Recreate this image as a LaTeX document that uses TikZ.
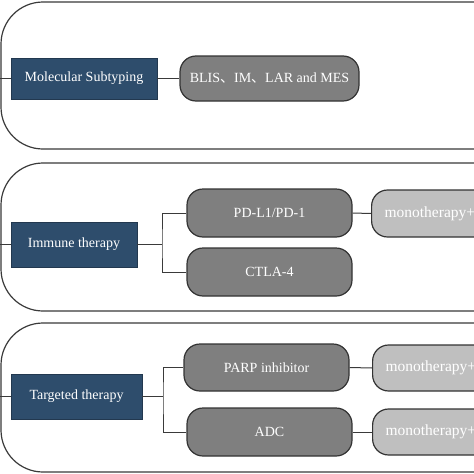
\documentclass[tikz,border=0pt]{standalone}
\usepackage{fontspec}
\setmainfont{Liberation Serif}
\newfontfamily\cjk{Noto Sans CJK SC}
\definecolor{boxblue}{HTML}{2E4D6C}
\definecolor{boxborder}{HTML}{22384F}
\definecolor{midgray}{HTML}{7F7F7F}
\definecolor{lightgray}{HTML}{BFBFBF}
\definecolor{edgegray}{HTML}{333333}
\definecolor{panelline}{HTML}{3A3A3A}
\begin{document}
\begin{tikzpicture}[x=1pt,y=-1pt,
  panel/.style={draw=panelline, line width=1.2pt, rounded corners=42pt},
  catbox/.style={rectangle, fill=boxblue, draw=boxborder, line width=0.8pt, text=white, inner sep=0pt, font=\fontsize{14}{16}\selectfont},
  subbox/.style={rectangle, rounded corners=16pt, fill=midgray, draw=edgegray, line width=1.2pt, text=white, inner sep=0pt, minimum width=165pt, minimum height=48pt, font=\fontsize{14}{16}\selectfont},
  monobox/.style={rectangle, rounded corners=16pt, fill=lightgray, draw=edgegray, line width=1.2pt, text=white, inner ysep=0pt, inner xsep=13pt, text width=120pt, align=left, minimum height=47pt, anchor=west, font=\fontsize{15.5}{17}\selectfont},
  link/.style={draw=panelline, line width=1pt}
]
\useasboundingbox (0,0) rectangle (474,474);
\clip (0,0) rectangle (474,474);
\fill[white] (0,0) rectangle (474,474);

% panels
\draw[panel] (530,2) -- (1,2) -- (1,149) -- (530,149);
\draw[panel] (530,163) -- (1,163) -- (1,311) -- (530,311);
\draw[panel] (530,323) -- (1,323) -- (1,472) -- (530,472);

% panel 1
\node[catbox, minimum width=146pt, minimum height=41pt] (mol) at (84,78.5) {Molecular Subtyping};
\node[subbox, minimum width=179pt, minimum height=45pt] (blis) at (269.5,78.5) {BLIS{\cjk 、}IM{\cjk 、}LAR and MES};
\coordinate (s1) at (0,78.5);
\draw[link] (s1) -- (mol.west);
\draw[link] (mol.east) -- (blis.west);

% panel 2
\node[catbox, minimum width=126pt, minimum height=45pt] (imm) at (74,244.5) {Immune therapy};
\node[subbox] (pd) at (269.5,213) {PD-L1/PD-1};
\node[subbox] (ctla) at (269.5,272) {CTLA-4};
\node[monobox] (m1) at (371,213.5) {monotherapy+};
\coordinate (s2) at (0,244.5);
\coordinate (j2) at (162,244.5);
\draw[link] (s2) -- (imm.west);
\draw[link] (imm.east) -- (j2);
\draw[link] (pd.west) -| (j2) |- (ctla.west);
\draw[link] (pd.east) -- (m1.west);

% panel 3
\node[catbox, minimum width=131pt, minimum height=45pt] (tgt) at (76.5,396.5) {Targeted therapy};
\node[subbox, minimum height=47pt] (parp) at (266.5,367.5) {PARP inhibitor};
\node[subbox] (adc) at (269.5,432) {ADC};
\node[monobox, minimum height=46pt] (m2) at (372,368) {monotherapy+};
\node[monobox, minimum height=46pt] (m3) at (372,432) {monotherapy+};
\coordinate (s3) at (0,396.5);
\coordinate (j3) at (163,396.5);
\draw[link] (s3) -- (tgt.west);
\draw[link] (tgt.east) -- (j3);
\draw[link] (parp.west) -| (j3) |- (adc.west);
\draw[link] (parp.east) -- (m2.west);
\draw[link] (adc.east) -- (m3.west);
\end{tikzpicture}
\end{document}
